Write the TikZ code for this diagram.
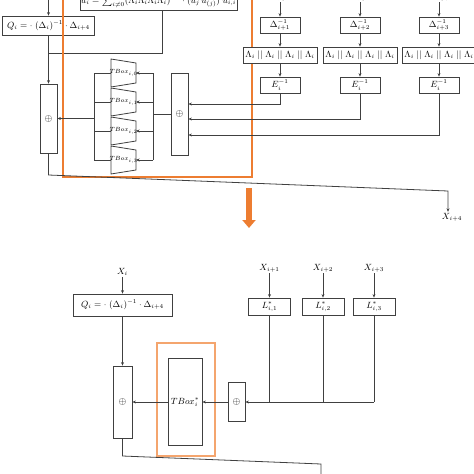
\documentclass[tikz,border=0pt]{standalone}
\usetikzlibrary{arrows.meta}
\definecolor{lncol}{HTML}{404040}
\definecolor{orgcol}{HTML}{ED7D31}
\definecolor{orglt}{HTML}{F4A56E}
\tikzset{
  ln/.style={draw=lncol,line width=0.8pt},
  arr/.style={ln,-{Stealth[length=3.5pt,width=3pt]}},
  box/.style={ln,fill=white,inner sep=0pt,font=\small},
  sumbox/.style={box,minimum width=17,font=\normalsize},
  lab/.style={inner sep=1pt,font=\small},
  tlab/.style={inner sep=0pt,font=\fontsize{6}{7}\selectfont},
  bigarr/.style={orgcol,line width=6pt,-{Triangle[length=8pt,width=13pt]}}
}
\begin{document}
\begin{tikzpicture}[x=1pt,y=-1pt]
\useasboundingbox (0,0) rectangle (474,474);
\clip (0,0) rectangle (474,474);
% upper half
\node[box,minimum width=157,minimum height=16] (sum) at (158.5,2) {$u_i=\sum_{i\neq 0}(\Lambda_i\Lambda_i\Lambda_i\Lambda_i)^{-1}\cdot(u_j\,u_{(j)})\;u_{i,i}$};
\coordinate (xtop) at (48.5,0);
\node[box,minimum width=92,minimum height=19] (q) at (48.5,25.5) {$Q_i=\cdot\;(\Delta_i)^{-1}\cdot\Delta_{i+4}$};
\node[sumbox,minimum height=69] (xa) at (48.5,118.5) {$\oplus$};
\draw[arr] (xtop) -- (q);
\draw[arr] (q) -- (xa);
\coordinate (j) at (48.5,53);
\draw[ln] ([xshift=3.5pt]sum.south) |- (j);
\draw[orgcol,line width=1.4pt] (63,-5) rectangle (252,177);
% tboxes
\coordinate (lbt) at (94,73);
\coordinate (lbb) at (94,160);
\coordinate (lbm) at (94,118.5);
\coordinate (rbt) at (153,73);
\coordinate (rbb) at (153,160);
\coordinate (rbm) at (153,114);
\foreach \k/\y in {0/73,1/102,2/131,3/160}{
  \draw[ln] (111,\y-14) -- (136,\y-10) -- (136,\y+10) -- (111,\y+14) -- cycle;
  \node[tlab] (tb\k) at (123.5,\y) {$TBox_{i,\k}$};
  \coordinate (tbl\k) at (111,\y);
  \coordinate (tbr\k) at (136,\y);
  \draw[ln] (tbl\k -| lbt) -- (tbl\k);
  \draw[arr] (tbr\k -| rbt) -- (tbr\k);
}
\draw[ln] (lbt) -- (lbb);
\draw[ln] (rbt) -- (rbb);
\draw[arr] (lbm) -- (xa);
\node[sumbox,minimum height=82] (xb) at (179.5,114) {$\oplus$};
\draw[ln] (rbm) -- (xb);
% columns
\foreach \i/\x/\yh in {1/280/104,2/360/119,3/439/135}{
  \node[lab] (x\i) at (\x,-3) {$X_{i+\i}$};
  \node[box,minimum width=40,minimum height=16] (d\i) at (\x,25) {$\Delta^{-1}_{i+\i}$};
  \node[box,minimum width=74,minimum height=16] (l\i) at (\x,55) {$\Lambda_i\;||\;\Lambda_i\;||\;\Lambda_i\;||\;\Lambda_i$};
  \node[box,minimum width=40,minimum height=16] (e\i) at (\x,85) {$E_i^{-1}$};
  \coordinate (t\i) at (\x,\yh);
  \draw[arr] (x\i) -- (d\i);
  \draw[arr] (d\i) -- (l\i);
  \draw[arr] (l\i) -- (e\i);
  \draw[arr] (e\i) |- (xb.east |- t\i);
}
% output of upper half
\node[lab] (x4) at (452,217) {$X_{i+4}$};
\coordinate (c1) at (48.5,175);
\coordinate (c2) at (448,191);
\draw[arr] (xa) -- (c1) -- (c2) -- (c2 |- x4.north);
\coordinate (oa) at (249,188);
\coordinate (ob) at (249,228);
\draw[bigarr] (oa) -- (ob);
% lower half
\node[lab] (xi0) at (122.5,272) {$X_i$};
\node[box,minimum width=99,minimum height=22] (q2) at (122.5,305) {$Q_i=\cdot\;(\Delta_i)^{-1}\cdot\Delta_{i+4}$};
\node[sumbox,minimum width=19,minimum height=72] (xc) at (122.5,402) {$\oplus$};
\draw[arr] (xi0) -- (q2);
\draw[arr] (q2) -- (xc);
\node[draw=orglt,line width=1.4pt,minimum width=58,minimum height=113] (ob2) at (186,399.5) {};
\node[box,minimum width=34,minimum height=87] (tb) at (185,402) {$TBox_i^{*}$};
\node[sumbox,minimum height=39] (xd) at (236.5,402) {$\oplus$};
\draw[arr] (tb) -- (xc);
\draw[arr] (xd) -- (tb);
\foreach \i/\x in {1/269.5,2/323,3/374}{
  \node[lab] (y\i) at (\x,268) {$X_{i+\i}$};
  \node[box,minimum width=42,minimum height=17] (m\i) at (\x,306.5) {$L^{*}_{i,\i}$};
  \draw[arr] (y\i) -- (m\i);
  \draw[ln] (m\i) -- (m\i |- xd);
}
\draw[arr] (m3 |- xd) -- (xd);
\coordinate (d1) at (122.5,456);
\coordinate (d2) at (321,464);
\coordinate (d3) at (321,480);
\draw[ln] (xc) -- (d1) -- (d2) -- (d3);
\end{tikzpicture}
\end{document}
